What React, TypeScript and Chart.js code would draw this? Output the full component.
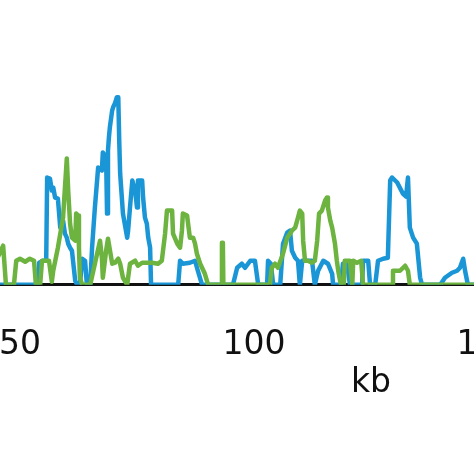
import React, { useEffect, useRef } from "react";
import { Chart, registerables } from "chart.js";

Chart.register(...registerables);

// positions along the sequence (kb) and coverage values (arbitrary units)
const greenKb = [44.4, 45.1, 46.4, 47.0, 48.7, 49.2, 50.0, 51.1, 52.1, 53.0, 53.4, 54.3, 54.7, 56.2, 56.8, 57.1, 58.1, 59.2, 60.0, 60.3, 60.7, 61.1, 61.8, 62.0, 62.4, 62.6, 62.8, 63.3, 65.0, 66.0, 67.1, 67.5, 67.7, 68.4, 68.8, 69.7, 70.3, 71.0, 71.4, 72.0, 72.9, 73.5, 74.6, 75.2, 76.1, 78.2, 79.5, 80.3, 81.0, 81.4, 82.5, 82.7, 83.6, 84.2, 84.6, 84.8, 85.7, 86.3, 87.0, 87.4, 87.8, 88.5, 89.5, 90.2, 93.05, 93.15, 93.35, 93.45, 103.4, 103.8, 104.5, 105.1, 106.2, 107.1, 108.1, 108.8, 109.4, 109.8, 110.3, 110.5, 110.9, 111.5, 112.4, 113.0, 113.5, 113.9, 114.5, 115.2, 115.6, 115.8, 116.3, 116.7, 117.3, 117.7, 118.0, 118.4, 118.6, 119.2, 119.4, 120.5, 121.0, 121.2, 122.0, 122.9, 123.3, 129.5, 129.7, 131.2, 132.3, 132.9, 133.3, 150.0];
const greenCov = [0, 13, 19.5, 0, 0, 12, 13, 11.5, 13, 12, 0, 0, 12, 12, 1.5, 7, 18.5, 33.5, 63, 47, 30.5, 23.5, 22, 35.5, 34.5, 18.5, 3.5, 0, 0, 10.5, 22, 13.5, 3.5, 17, 23, 10.5, 11, 13, 10.5, 3.5, 0, 10.5, 12, 9.5, 11, 11, 10.5, 12, 25.5, 37, 37, 25.5, 20.5, 18.5, 27, 35.5, 34.5, 23.5, 23.5, 20.5, 15.5, 10.5, 5.5, 0, 0, 21, 21, 0, 0, 8.5, 10.5, 8.5, 15.5, 23.5, 27, 28.5, 33.5, 37, 35.5, 22, 12, 12, 11, 12, 22, 35.5, 37, 42, 43.5, 38.5, 32, 28.5, 20.5, 12, 7, 2, 0, 0, 12, 12, 0, 12, 11, 12, 0, 0, 7, 7, 9.5, 7, 0, 0];

const blueKb = [43.6, 53.9, 54.1, 54.9, 55.6, 55.8, 56.4, 56.8, 57.1, 57.5, 58.1, 58.6, 59.2, 59.6, 60.0, 60.3, 60.7, 61.1, 61.8, 62.2, 62.8, 63.3, 63.9, 64.3, 65.0, 65.4, 66.0, 66.7, 67.5, 67.7, 68.4, 68.6, 68.8, 69.0, 69.2, 69.7, 69.9, 70.3, 70.7, 71.0, 71.2, 71.4, 72.0, 72.9, 73.1, 73.5, 74.0, 74.6, 75.0, 75.2, 76.1, 76.3, 76.7, 77.1, 77.4, 77.8, 78.0, 83.8, 84.2, 84.8, 86.3, 87.4, 88.0, 88.9, 95.5, 96.4, 97.4, 98.1, 99.2, 100.2, 100.9, 102.8, 103.0, 103.6, 104.1, 105.6, 106.2, 107.1, 107.7, 108.1, 108.8, 109.4, 109.8, 110.3, 111.3, 112.4, 113.0, 113.7, 114.8, 115.8, 116.7, 116.9, 118.6, 119.0, 119.9, 120.5, 123.1, 123.3, 124.4, 124.8, 125.9, 126.5, 127.6, 128.6, 129.1, 129.5, 130.6, 131.8, 132.5, 132.9, 133.3, 134.0, 134.8, 135.5, 135.9, 139.8, 140.8, 142.3, 143.4, 144.0, 144.7, 145.1, 145.7, 150.0];
const blueCov = [0, 0, 11, 12, 12, 53.5, 53, 47, 48.5, 43.5, 43, 28.5, 32, 25.5, 23.5, 20.5, 18.5, 17, 2, 0, 0, 13, 12, 0, 0, 18.5, 38.5, 58.5, 57, 66, 63.5, 35.5, 67, 73.5, 78.5, 87, 88.5, 90.5, 93.5, 93.5, 72, 55.5, 35.5, 23.5, 27, 38.5, 52, 47, 38.5, 52, 52, 43.5, 33.5, 30.5, 23.5, 18.5, 0, 0, 12, 10.5, 11, 12, 7, 0, 0, 8.5, 10.5, 8.5, 12, 12, 0, 0, 12, 10.5, 0, 0, 20.5, 26, 27, 17, 13.5, 12, 0, 12, 12, 12, 0, 7, 12, 10.5, 5.5, 0, 0, 10.5, 10.5, 0, 0, 12, 12, 0, 0, 12, 13, 13.5, 52, 53.5, 51, 45.5, 44, 53.5, 28.5, 23.5, 20.5, 3.5, 0, 0, 3.5, 6, 7, 8.5, 13, 7, 0, 0];

const tickValues = [50, 100, 150, 200];
const axisTitle = "kb";

const pts = (xs: number[], ys: number[]) => xs.map((x, i) => ({ x, y: ys[i] }));

export default function App() {
  const ref = useRef<HTMLCanvasElement | null>(null);
  useEffect(() => {
    if (!ref.current) return;
    const chart = new Chart(ref.current, {
      type: "line",
      data: {
        datasets: [
          {
            data: pts(greenKb, greenCov),
            borderColor: "#6cb33f",
            borderWidth: 4.5,
            pointRadius: 0,
            tension: 0,
            fill: false,
            borderJoinStyle: "round",
          },
          {
            data: pts(blueKb, blueCov),
            borderColor: "#1a96d6",
            borderWidth: 4.5,
            pointRadius: 0,
            tension: 0,
            fill: false,
            borderJoinStyle: "round",
          },
        ],
      },
      options: {
        responsive: false,
        animation: false,
        layout: { padding: { top: 0, left: 0, right: 0, bottom: 71 } },
        plugins: { legend: { display: false }, tooltip: { enabled: false } },
        scales: {
          x: {
            type: "linear",
            min: 0,
            max: 250,
            z: 1,
            grid: { display: false, drawTicks: false },
            border: { display: true, color: "#111", width: 3 },
            afterBuildTicks: (s: any) => {
              s.ticks = [0, ...tickValues, 250].map((v) => ({ value: v }));
            },
            afterFit: (s: any) => {
              s.paddingLeft = 0;
              s.paddingRight = 0;
            },
            ticks: {
              padding: 41,
              maxRotation: 0,
              autoSkip: false,
              color: "#111",
              font: { family: "DejaVu Sans", size: 33 },
              callback: (v: any) => (tickValues.includes(Number(v)) ? String(v) : ""),
            },
            title: {
              display: true,
              text: axisTitle,
              color: "#111",
              font: { family: "DejaVu Sans", size: 33 },
              padding: { top: -43, bottom: 0 },
            },
          },
          y: { display: false, min: 0, max: 142 },
        },
      },
    });
    return () => chart.destroy();
  }, []);
  return (
    <div style={{ position: "fixed", left: 0, top: 0, width: 474, height: 474, overflow: "hidden", background: "#fff" }}>
      <div style={{ position: "absolute", left: -214, top: 0 }}>
        <canvas ref={ref} width={1170} height={474} style={{ display: "block" }} />
      </div>
    </div>
  );
}
